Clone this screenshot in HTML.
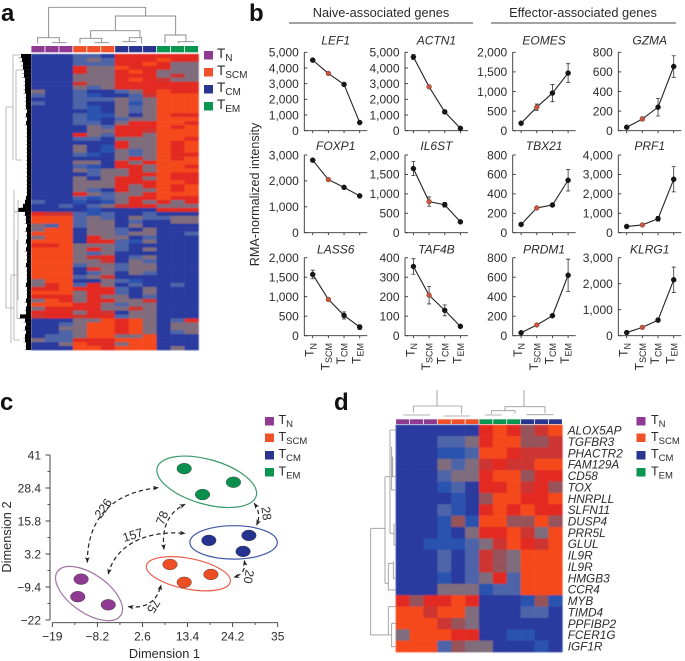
<!DOCTYPE html>
<html lang="en">
<head>
<meta charset="utf-8">
<title>T cell subset expression figure</title>
<style>
html,body{margin:0;padding:0;background:#fff;}
svg{display:block;}
text{font-family:"Liberation Sans",sans-serif;fill:#2b2b2b;}
</style>
</head>
<body>
<svg id="fig" xmlns="http://www.w3.org/2000/svg" width="685" height="661" viewBox="0 0 685 661">
<defs>
<filter id="soft" x="-2%" y="-2%" width="104%" height="104%"><feGaussianBlur stdDeviation="0.6"/></filter>
<marker id="head" markerUnits="userSpaceOnUse" markerWidth="20" markerHeight="16" refX="16" refY="8" orient="auto-start-reverse"><path d="M0 1L18 8L0 15L5 8Z" fill="#222"/></marker>
</defs>

<text x="1" y="21" font-size="24" font-weight="bold" style="fill:#111">a</text>
<text x="249" y="21" font-size="24" font-weight="bold" style="fill:#111">b</text>
<text x="0" y="410" font-size="24" font-weight="bold" style="fill:#111">c</text>
<text x="334" y="410" font-size="24" font-weight="bold" style="fill:#111">d</text>

<!-- Panel a -->
<g id="heatA" filter="url(#soft)"></g>
<g id="leavesA"></g>
<g id="barA"></g>
<path transform="scale(0.3333)" fill="none" stroke="#888" stroke-width="2.8" d="M146 113V22H437V48M346 92V48H527V105M272 115V92H420V113M495 130V105H558V125M113 130V113H178V128M155 128H200M240 130V115H305V127M283 128H327M388 125V113H425V130M367 125H410M535 130V125H582"/>
<path fill="none" stroke="#aaa" stroke-width="0.8" d="M13 55V160M6 107H13M6 107V308M6 308H14M14 190V340H20M11 275V343M11 275H17M17 240V318M13 55H20M16 70V160H22M16 70H24M18 200V300"/>
<g>
<g><rect x="204" y="51" width="9" height="8.5" fill="#8e3a92"/><text x="217" y="58" font-size="13.5">T<tspan dy="3" font-size="10">N</tspan></text></g>
<g><rect x="204" y="68" width="9" height="8.5" fill="#f0512a"/><text x="217" y="75" font-size="13.5">T<tspan dy="3" font-size="10">SCM</tspan></text></g>
<g><rect x="204" y="85" width="9" height="8.5" fill="#2a3590"/><text x="217" y="92" font-size="13.5">T<tspan dy="3" font-size="10">CM</tspan></text></g>
<g><rect x="204" y="102" width="9" height="8.5" fill="#0a9650"/><text x="217" y="109" font-size="13.5">T<tspan dy="3" font-size="10">EM</tspan></text></g>
</g>

<!-- Panel b -->
<text x="381" y="17" font-size="12.8" text-anchor="middle">Naive-associated genes</text>
<line x1="289" y1="23" x2="473" y2="23" stroke="#444" stroke-width="0.9"/>
<text x="583" y="17" font-size="12.8" text-anchor="middle">Effector-associated genes</text>
<line x1="491" y1="23" x2="676" y2="23" stroke="#444" stroke-width="0.9"/>
<text transform="translate(259,194.5) rotate(-90)" font-size="12.6" text-anchor="middle">RMA-normalized intensity</text>
<g id="lines"></g>

<!-- Panel c -->
<g id="scatter"></g>
<text x="164.5" y="658" font-size="12.8" text-anchor="middle">Dimension 1</text>
<text transform="translate(11,537) rotate(-90)" font-size="12.8" text-anchor="middle">Dimension 2</text>
<g transform="translate(0,390) scale(0.3333)">
<g fill="none" stroke="#222" stroke-width="3.6" stroke-dasharray="13 9">
<path marker-start="url(#head)" marker-end="url(#head)" d="M262 517C262 400 320 310 475 293"/>
<path marker-start="url(#head)" marker-end="url(#head)" d="M325 552C345 470 430 420 555 430"/>
<path marker-start="url(#head)" marker-end="url(#head)" d="M492 478C485 420 500 370 555 343"/>
<path marker-start="url(#head)" marker-end="url(#head)" d="M763 340Q785 372 770 405"/>
<path marker-start="url(#head)" marker-end="url(#head)" d="M733 512Q740 550 702 562"/>
<path marker-start="url(#head)" marker-end="url(#head)" d="M385 650Q465 660 483 585"/>
</g>
<g font-size="37" text-anchor="middle">
<text transform="translate(320,362) rotate(-55)" >226</text>
<text transform="translate(402,447) rotate(-17)">157</text>
<text transform="translate(498,388) rotate(-68)">78</text>
<text transform="translate(787,372) rotate(82)">28</text>
<text transform="translate(734,558) rotate(100)">20</text>
<text transform="translate(450,642) rotate(122)">75</text>
</g>
</g>
<g>
<g><rect x="265" y="417" width="9" height="8.5" fill="#8e3a92"/><text x="278.5" y="424" font-size="12.5">T<tspan dy="3" font-size="9.5">N</tspan></text></g>
<g><rect x="265" y="433.5" width="9" height="8.5" fill="#f0512a"/><text x="278.5" y="441" font-size="12.5">T<tspan dy="3" font-size="9.5">SCM</tspan></text></g>
<g><rect x="265" y="451" width="9" height="8.5" fill="#2a3590"/><text x="278.5" y="458" font-size="12.5">T<tspan dy="3" font-size="9.5">CM</tspan></text></g>
<g><rect x="265" y="468" width="9" height="8.5" fill="#0a9650"/><text x="278.5" y="475.5" font-size="12.5">T<tspan dy="3" font-size="9.5">EM</tspan></text></g>
</g>

<!-- Panel d -->
<g id="heatD" filter="url(#soft)"></g>
<g id="barD"></g>
<g id="genesD"></g>
<path transform="translate(340,390) scale(0.3333)" fill="none" stroke="#999" stroke-width="2.6" d="M291 0V48M552 0V50M291 48H220V68M291 48H365V72M220 50V68M190 75H270M310 78H390M552 50H495V62M552 50H615V70M495 62H455V72M495 62H525V70M435 75H485M560 74H640"/>
<path transform="translate(340,390) scale(0.3333)" fill="none" stroke="#999" stroke-width="2.6" d="M92 415V735M92 415H135M92 735H145M135 260V580M135 260H150M135 580H145M145 520V600H167M145 520H160M160 515V565H167M150 120V430M150 120H167M150 430H162M162 400V465H167M155 170V300H165M158 200V260H167M145 650V735M145 650H167M145 735H155M155 700V770H167M155 700H167"/>
<g>
<g><rect x="636.5" y="417" width="9" height="8.5" fill="#8e3a92"/><text x="651" y="424" font-size="12.5">T<tspan dy="3" font-size="9.5">N</tspan></text></g>
<g><rect x="636.5" y="433.5" width="9" height="8.5" fill="#f0512a"/><text x="651" y="441" font-size="12.5">T<tspan dy="3" font-size="9.5">SCM</tspan></text></g>
<g><rect x="636.5" y="451" width="9" height="8.5" fill="#2a3590"/><text x="651" y="458" font-size="12.5">T<tspan dy="3" font-size="9.5">CM</tspan></text></g>
<g><rect x="636.5" y="468" width="9" height="8.5" fill="#0a9650"/><text x="651" y="475.5" font-size="12.5">T<tspan dy="3" font-size="9.5">EM</tspan></text></g>
</g>
</svg>

<script>
// ---------- panel a data: expression level per row (0 low ... 7 high), 12 samples ----------
const heatARows = [
"000220666666","000232666766","000222667633","000633766633","000633676333","000333666353","000333676533","000533666666","000323666666",
"300200236766","200210025777","000222323777","200200313777","000210323777","000010323777","000211303766","000210233777","000220366776",
"000032666767","000033665777","000632663777","000220333776","000000633767","000301633767","000301323767","000210323766","000000363767",
"000330636777","000210663776","000323363777","000023366766","000303663766","000333666776","000333636767","000320633767","000632336777",
"000212366766","200101363636","002023566333","000010000666",
"655212002000","777232032233","777233020033","327233030000","377033203000","777033233002","377063302000","777066213000","667333200000",
"777363203000","777323000000","777356023000","777335032000","777233233000","777053233000","777023032000","777235000000","377003210000",
"367263020020","667666203000","777366203000","666363302000","376366335000","777663233000","366663353000","666365033000","566566233000",
"000337673026","002377673033","003377673033","002377673023","022377337000","322666777000","003766377000","000776777030"
];
const heatALeaves = [10,9,8,8,7,7,6,6,6,6,5,5,5,5,4,5,4,5,4,4,4,4,4,4,4,4,4,4,4,4,4,4,4,4,4,4,5,6,8,13,6,5,5,4,5,4,4,5,4,5,4,4,4,5,4,4,4,4,5,4,4,4,5,4,5,5,11,6,5,6,5,6,6,5,5];

// ---------- panel b data ----------
const subsetCategories = ["N","SCM","CM","EM"];
const lef1Values = [4500,3650,2950,520];
const lef1Errors = [60,60,70,40];
const lef1Ticks = [0,1000,2000,3000,4000,5000];
const actn1Values = [4700,2800,1200,150];
const actn1Errors = [160,60,120,80];
const actn1Ticks = [0,1000,2000,3000,4000,5000];
const foxp1Values = [2800,2050,1750,1420];
const foxp1Errors = [40,60,40,30];
const foxp1Ticks = [0,1000,2000,3000];
const il6stValues = [1650,800,720,280];
const il6stErrors = [180,120,60,20];
const il6stTicks = [0,500,1000,1500,2000];
const lass6Values = [1570,930,520,220];
const lass6Errors = [110,40,90,60];
const lass6Ticks = [0,500,1000,1500,2000];
const taf4bValues = [355,208,130,48];
const taf4bErrors = [40,45,28,5];
const taf4bTicks = [0,100,200,300,400];
const eomesValues = [190,600,960,1470];
const eomesErrors = [20,80,220,240];
const eomesTicks = [0,500,1000,1500,2000];
const gzmaValues = [35,120,240,655];
const gzmaErrors = [5,20,90,110];
const gzmaTicks = [0,200,400,600,800];
const tbx21Values = [85,255,285,540];
const tbx21Errors = [5,5,10,110];
const tbx21Ticks = [0,200,400,600,800];
const prf1Values = [320,400,720,2750];
const prf1Errors = [40,20,120,650];
const prf1Ticks = [0,1000,2000,3000,4000];
const prdm1Values = [30,110,205,620];
const prdm1Errors = [5,5,10,165];
const prdm1Ticks = [0,200,400,600,800];
const klrg1Values = [120,320,600,2150];
const klrg1Errors = [20,20,70,490];
const klrg1Ticks = [0,1000,2000,3000];
const geneNames = ["LEF1","ACTN1","EOMES","GZMA","FOXP1","IL6ST","TBX21","PRF1","LASS6","TAF4B","PRDM1","KLRG1"];
const geneValues = [lef1Values,actn1Values,eomesValues,gzmaValues,foxp1Values,il6stValues,tbx21Values,prf1Values,lass6Values,taf4bValues,prdm1Values,klrg1Values];
const geneErrors = [lef1Errors,actn1Errors,eomesErrors,gzmaErrors,foxp1Errors,il6stErrors,tbx21Errors,prf1Errors,lass6Errors,taf4bErrors,prdm1Errors,klrg1Errors];
const geneTicks = [lef1Ticks,actn1Ticks,eomesTicks,gzmaTicks,foxp1Ticks,il6stTicks,tbx21Ticks,prf1Ticks,lass6Ticks,taf4bTicks,prdm1Ticks,klrg1Ticks];

// ---------- panel c data ----------
const dim1Ticks = [-19,-8.2,2.6,13.4,24.2,35];
const dim2Ticks = [-22,-9.4,3.2,15.8,28.4,41];
const tnDim1 = [-12.1,-12.9,-5.6];
const tnDim2 = [-6.4,-13.1,-16.2];
const tscmDim1 = [9.2,19.0,12.6];
const tscmDim2 = [-0.8,-4.6,-7.6];
const tcmDim1 = [18.5,28.1,26.7];
const tcmDim2 = [8.4,10.3,4.2];
const temDim1 = [12.6,24.4,17.0];
const temDim2 = [35.8,30.6,25.9];

// ---------- panel d data ----------
const heatDGenes = ["ALOX5AP","TGFBR3","PHACTR2","FAM129A","CD58","TOX","HNRPLL","SLFN11","DUSP4","PRR5L","GLUL","IL9R","IL9R","HMGB3","CCR4","MYB","TIMD4","PPFIBP2","FCER1G","IGF1R"];
const alox5apLevels=[0,0,0,0,0,0,6,7,6,4,5,7];
const tgfbr3Levels=[0,0,0,2,2,3,6,7,7,4,4,5];
const phactr2Levels=[0,0,0,1,1,2,7,7,6,5,5,5];
const fam129aLevels=[0,0,0,3,2,3,5,6,5,5,7,7];
const cd58Levels=[0,0,0,2,3,3,6,7,7,4,6,6];
const toxLevels=[0,0,0,1,2,0,6,6,7,5,6,4];
const hnrpllLevels=[0,0,0,0,1,0,4,7,7,6,6,7];
const slfn11Levels=[0,0,0,2,1,0,6,7,6,7,6,6];
const dusp4Levels=[0,0,0,1,4,1,7,7,4,4,7,4];
const prr5lLevels=[0,0,0,1,0,3,6,6,7,5,3,7];
const glulLevels=[0,0,1,1,1,2,3,5,7,6,5,7];
const il9rLevelsA=[0,0,0,2,0,2,5,4,3,7,7,7];
const il9rLevelsB=[0,0,0,2,0,2,5,4,3,7,7,7];
const hmgb3Levels=[0,0,0,1,0,2,3,6,2,7,7,7];
const ccr4Levels=[0,0,0,3,3,3,1,2,2,7,7,7];
const mybLevels=[6,4,6,6,7,6,0,0,0,1,4,1];
const timd4Levels=[7,7,5,7,7,3,0,0,0,2,2,0];
const ppfibp2Levels=[7,7,7,5,4,3,0,0,0,0,0,0];
const fcer1gLevels=[3,7,7,7,6,6,0,0,1,1,0,0];
const igf1rLevels=[7,7,7,2,4,3,3,0,0,0,1,0];
const heatDRows=[alox5apLevels,tgfbr3Levels,phactr2Levels,fam129aLevels,cd58Levels,toxLevels,hnrpllLevels,slfn11Levels,dusp4Levels,prr5lLevels,glulLevels,il9rLevelsA,il9rLevelsB,hmgb3Levels,ccr4Levels,mybLevels,timd4Levels,ppfibp2Levels,fcer1gLevels,igf1rLevels];

// ---------- drawing ----------
const NS = "http://www.w3.org/2000/svg";
const PURPLE="#8e3a92", ORANGE="#f0512a", BLUE="#2a3590", GREEN="#0a9650";
function levelColor(v){ return ["#2a3a9f","#2c52b0","#4d65a8","#7f6c7c","#96535a","#cc3530","#e32b20","#f5491f"][Math.max(0,Math.min(7,Math.round(v)))]; }
function mk(parent,tag,attrs,txt){
  const el=document.createElementNS(NS,tag);
  for(const k in attrs) el.setAttribute(k,attrs[k]);
  if(txt!==undefined) el.textContent=txt;
  parent.appendChild(el);
  return el;
}
function fmt(v){ return String(v).replace(/\B(?=(\d{3})+$)/g,","); }

// Heatmap a
(function(){
  const g=document.getElementById("heatA"), x0=31, x1=198.5, y0=54, y1=350;
  const cw=(x1-x0)/12, rh=(y1-y0)/heatARows.length;
  heatARows.forEach(function(row,r){
    row.split("").forEach(function(c,i){
      const el=mk(g,"rect",{x:x0+i*cw,y:y0+r*rh,width:cw+0.3,height:rh+0.3,fill:levelColor(+c)});
      
      
    });
  });
  const lg=document.getElementById("leavesA");
  heatALeaves.forEach(function(len,r){
    const y=y0+(r+0.5)*rh;
    const el=mk(lg,"line",{x1:31,y1:y,x2:31-len,y2:y,stroke:"#000","stroke-width":rh+0.1});
    
    
    const el2=mk(lg,"line",{x1:31-len,y1:y+rh/2,x2:31-len*1.25,y2:y+rh/2,stroke:"#444","stroke-width":0.5});
    
    
  });
  const bar=document.getElementById("barA"), cols=[PURPLE,ORANGE,BLUE,GREEN];
  for(let i=0;i<12;i++){
    const el=mk(bar,"rect",{x:x0+i*cw+0.4,y:46,width:cw-0.8,height:6.3,fill:cols[Math.floor(i/3)]});
    
    
  }
})();

// Small-multiple line charts b
(function(){
  const root=document.getElementById("lines");
  const axisX=[304.3,405,512.7,618.3], rowTop=[52.3,155,257.7], rowBottom=[130.7,232.7,335.7], titleY=[44.3,150,253.7];
  const step=15.67, firstOffset=8.4, axisLen=63;
  geneNames.forEach(function(name,idx){
    const col=idx%4, row=Math.floor(idx/4);
    const ax=axisX[col], top=rowTop[row], bot=rowBottom[row];
    const ticks=geneTicks[idx], vmax=ticks[ticks.length-1];
    const xs=function(i){ return ax+firstOffset+i*step; };
    const ys=function(v){ return bot-(v/vmax)*(bot-top); };
    const g=mk(root,"g",{});
    
    
    const title=mk(g,"text",{x:ax+31.4,y:titleY[row],"font-size":12,"font-style":"italic","text-anchor":"middle"},name);
    
    
    const ya=mk(g,"line",{x1:ax,y1:top,x2:ax,y2:bot,stroke:"#333","stroke-width":0.9});
    
    
    const xa=mk(g,"line",{x1:ax,y1:bot,x2:ax+axisLen,y2:bot,stroke:"#333","stroke-width":0.9});
    
    
    ticks.forEach(function(t){
      const tm=mk(g,"line",{x1:ax,y1:ys(t),x2:ax+3,y2:ys(t),stroke:"#333","stroke-width":0.9});
      
      
      const tl=mk(g,"text",{x:ax-5.5,y:ys(t)+4.3,"font-size":12,"text-anchor":"end"},fmt(t));
      
      
    });
    subsetCategories.forEach(function(c,i){
      const tm=mk(g,"line",{x1:xs(i),y1:bot,x2:xs(i),y2:bot+2.5,stroke:"#333","stroke-width":0.9});
      
      
      if(row===2){
        const tl=mk(g,"text",{transform:"translate("+(xs(i)+1)+",343) rotate(-90)","font-size":12,"text-anchor":"end"},"T");
        
        
        const sub=mk(tl,"tspan",{dy:2.6,"font-size":9},c);
        
        
      }
    });
    const vals=geneValues[idx], errs=geneErrors[idx];
    const pts=vals.map(function(v,i){ return xs(i)+","+ys(v); }).join(" ");
    const line=mk(g,"polyline",{points:pts,fill:"none",stroke:"#222","stroke-width":1.1});
    
    
    vals.forEach(function(v,i){
      const x=xs(i), e=errs[i];
      const eb=mk(g,"path",{d:"M"+(x-2)+" "+ys(v+e)+"H"+(x+2)+"M"+x+" "+ys(v+e)+"V"+ys(v-e)+"M"+(x-2)+" "+ys(v-e)+"H"+(x+2),fill:"none",stroke:"#333","stroke-width":0.8});
      
      
      const p=mk(g,"circle",{cx:x,cy:ys(v),r:i===1?2.4:2.5,fill:i===1?"#c9553f":"#161616",stroke:i===1?"#7a3a30":"#161616","stroke-width":0.5});
      
      
    });
  });
})();

// Scatter c
(function(){
  const g=document.getElementById("scatter");
  const xs=function(v){ return 52.3+(v+19)/54*225.4; };
  const ys=function(v){ return 620-(v+22)/63*165; };
  const ay=mk(g,"line",{x1:50,y1:ys(41),x2:50,y2:ys(-22),stroke:"#333","stroke-width":0.9});
  
  
  const ax=mk(g,"line",{x1:xs(-19),y1:622.7,x2:xs(35),y2:622.7,stroke:"#333","stroke-width":0.9});
  
  
  dim2Ticks.forEach(function(t,i){
    const tm=mk(g,"line",{x1:45.5,y1:ys(t),x2:50,y2:ys(t),stroke:"#333","stroke-width":0.9});
    
    
    const tl=mk(g,"text",{x:41,y:ys(t)+4.3,"font-size":12,"text-anchor":"end"},String(t).replace("-","\u2212"));
    
    
    if(i<dim2Ticks.length-1){
      const mid=(t+dim2Ticks[i+1])/2;
      const mm=mk(g,"line",{x1:47.5,y1:ys(mid),x2:50,y2:ys(mid),stroke:"#333","stroke-width":0.8});
      
      
    }
  });
  dim1Ticks.forEach(function(t,i){
    const tm=mk(g,"line",{x1:xs(t),y1:622.7,x2:xs(t),y2:627,stroke:"#333","stroke-width":0.9});
    
    
    const tl=mk(g,"text",{x:xs(t),y:640.7,"font-size":12,"text-anchor":"middle"},String(t).replace("-","\u2212"));
    
    
    if(i<dim1Ticks.length-1){
      const mid=(t+dim1Ticks[i+1])/2;
      const mm=mk(g,"line",{x1:xs(mid),y1:622.7,x2:xs(mid),y2:625,stroke:"#333","stroke-width":0.8});
      
      
    }
  });
  const mean=function(a){ return a.reduce(function(s,v){return s+v;},0)/a.length; };
  const groups=[
    {n:"tem",x:temDim1,y:temDim2,c:"#0a8f4c",o:"#3c9a6c",rx:51.5,ry:22.3,rot:16},
    {n:"tcm",x:tcmDim1,y:tcmDim2,c:"#25338f",o:"#3e57a6",rx:43.7,ry:16.7,rot:0},
    {n:"tscm",x:tscmDim1,y:tscmDim2,c:"#ee4e23",o:"#e8604a",rx:42.7,ry:15.3,rot:11},
    {n:"tn",x:tnDim1,y:tnDim2,c:"#8e3a90",o:"#a274a6",rx:38.5,ry:19.3,rot:35}
  ];
  groups.forEach(function(gr){
    const cx=xs(mean(gr.x)), cy=ys(mean(gr.y));
    const e=mk(g,"ellipse",{cx:cx,cy:cy,rx:gr.rx,ry:gr.ry,fill:"none",stroke:gr.o,"stroke-width":1.2,transform:"rotate("+gr.rot+" "+cx+" "+cy+")"});
    
    
    gr.x.forEach(function(v,i){
      const p=mk(g,"ellipse",{cx:xs(v),cy:ys(gr.y[i]),rx:7.3,ry:5.4,fill:gr.c,stroke:"#333","stroke-width":0.4});
      
      
    });
  });
})();

// Heatmap d
(function(){
  const g=document.getElementById("heatD"), x0=395.7, x1=562.3, y0=424.7, y1=652;
  const cw=(x1-x0)/12, rh=(y1-y0)/heatDRows.length;
  heatDRows.forEach(function(row,r){
    row.forEach(function(v,i){
      const el=mk(g,"rect",{x:x0+i*cw,y:y0+r*rh,width:cw+0.3,height:rh+0.3,fill:levelColor(v)});
      
      
    });
  });
  const bar=document.getElementById("barD"), cols=[PURPLE,ORANGE,GREEN,BLUE];
  for(let i=0;i<12;i++){
    const el=mk(bar,"rect",{x:x0+i*cw+0.4,y:419.3,width:cw-0.8,height:4.7,fill:cols[Math.floor(i/3)]});
    
    
  }
  const lab=document.getElementById("genesD");
  heatDGenes.forEach(function(name,r){
    const el=mk(lab,"text",{x:567.7,y:y0+(r+0.5)*rh+4.2,"font-size":11.8,"font-style":"italic"},name);
    
    
  });
})();
</script>
</body>
</html>
